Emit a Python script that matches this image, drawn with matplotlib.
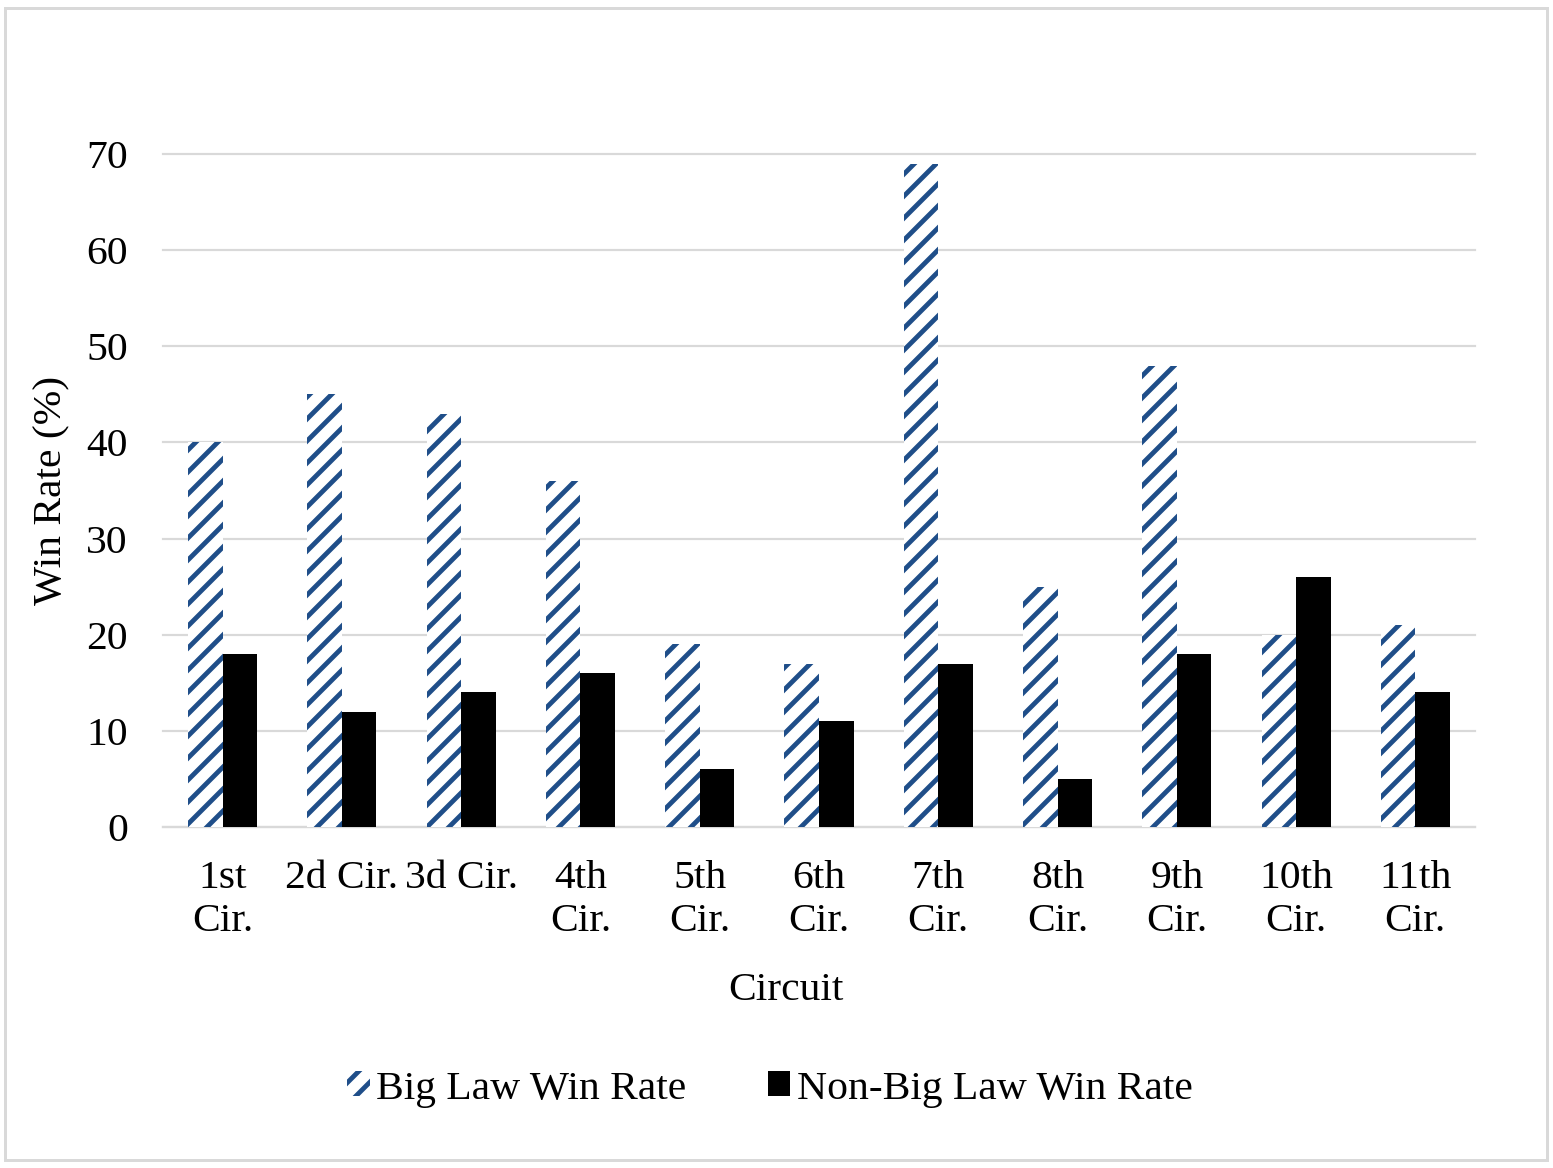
import matplotlib
matplotlib.use("Agg")
import matplotlib.pyplot as plt
import matplotlib.patches as mpatches
import numpy as np

categories = ["1st\nCir.", "2d Cir.", "3d Cir.", "4th\nCir.", "5th\nCir.", "6th\nCir.",
              "7th\nCir.", "8th\nCir.", "9th\nCir.", "10th\nCir.", "11th\nCir."]
big_law = [40, 45, 43, 36, 19, 17, 69, 25, 48, 20, 21]
non_big_law = [18, 12, 14, 16, 6, 11, 17, 5, 18, 26, 14]
series_names = ["Big Law Win Rate", "Non-Big Law Win Rate"]
yticks = [0, 10, 20, 30, 40, 50, 60, 70]

DPI = 132
def pt(px):
    return px * 72.0 / DPI

FS = pt(41.5)
plt.rcParams['font.family'] = ['Liberation Serif', 'DejaVu Serif']
plt.rcParams['hatch.linewidth'] = pt(4.8)
plt.rcParams['hatch.color'] = '#1F4E89'

W, H = 1553, 1168
fig = plt.figure(figsize=(W/DPI, H/DPI), dpi=DPI)
ax = fig.add_axes([163/W, 1-827/H, (1475-163)/W, (827-154)/H])

x = np.arange(len(categories))
bw = 0.29
ax.bar(x - bw/2, big_law, bw, color='white', edgecolor='#1F4E89', linewidth=0,
       hatch='//', label=series_names[0], zorder=3)
ax.bar(x + bw/2, non_big_law, bw, color='black', label=series_names[1], zorder=3)

ax.set_xlim(-0.5, len(categories) - 0.5)
ax.set_ylim(0, 70)
ax.set_yticks(yticks)
ax.yaxis.grid(True, color='#d9d9d9', linewidth=pt(2.2), zorder=0)
for gl in ax.get_ygridlines():
    gl.set_clip_on(False)
ax.set_axisbelow(True)
for s in ['top', 'right', 'left']:
    ax.spines[s].set_visible(False)
ax.spines['bottom'].set_color('#d9d9d9')
ax.spines['bottom'].set_linewidth(pt(2.2))
ax.tick_params(axis='both', length=0, labelsize=FS)
ax.tick_params(axis='y', pad=pt(35))
ax.tick_params(axis='x', pad=pt(33))
ax.set_xticks(x)
ax.set_xticklabels(categories, linespacing=1.22)

fig.text(52/W, 1-490/H, "Win Rate (%)", rotation=90, ha='center', va='center', fontsize=FS)
fig.text(786/W, 1-991/H, "Circuit", ha='center', va='center', fontsize=FS)

leg = fig.legend(loc='center', bbox_to_anchor=(770/W, 1-1089/H), ncol=2, frameon=False,
                 fontsize=FS, handlelength=0.55, handleheight=0.55, handletextpad=0.15,
                 columnspacing=1.95)

border = mpatches.Rectangle((5/W, 8/H), (1547-5)/W, (1160-8)/H, transform=fig.transFigure,
                            fill=False, edgecolor='#d9d9d9', linewidth=pt(3))
fig.add_artist(border)

fig.savefig("out.png", dpi=DPI, facecolor='white')
